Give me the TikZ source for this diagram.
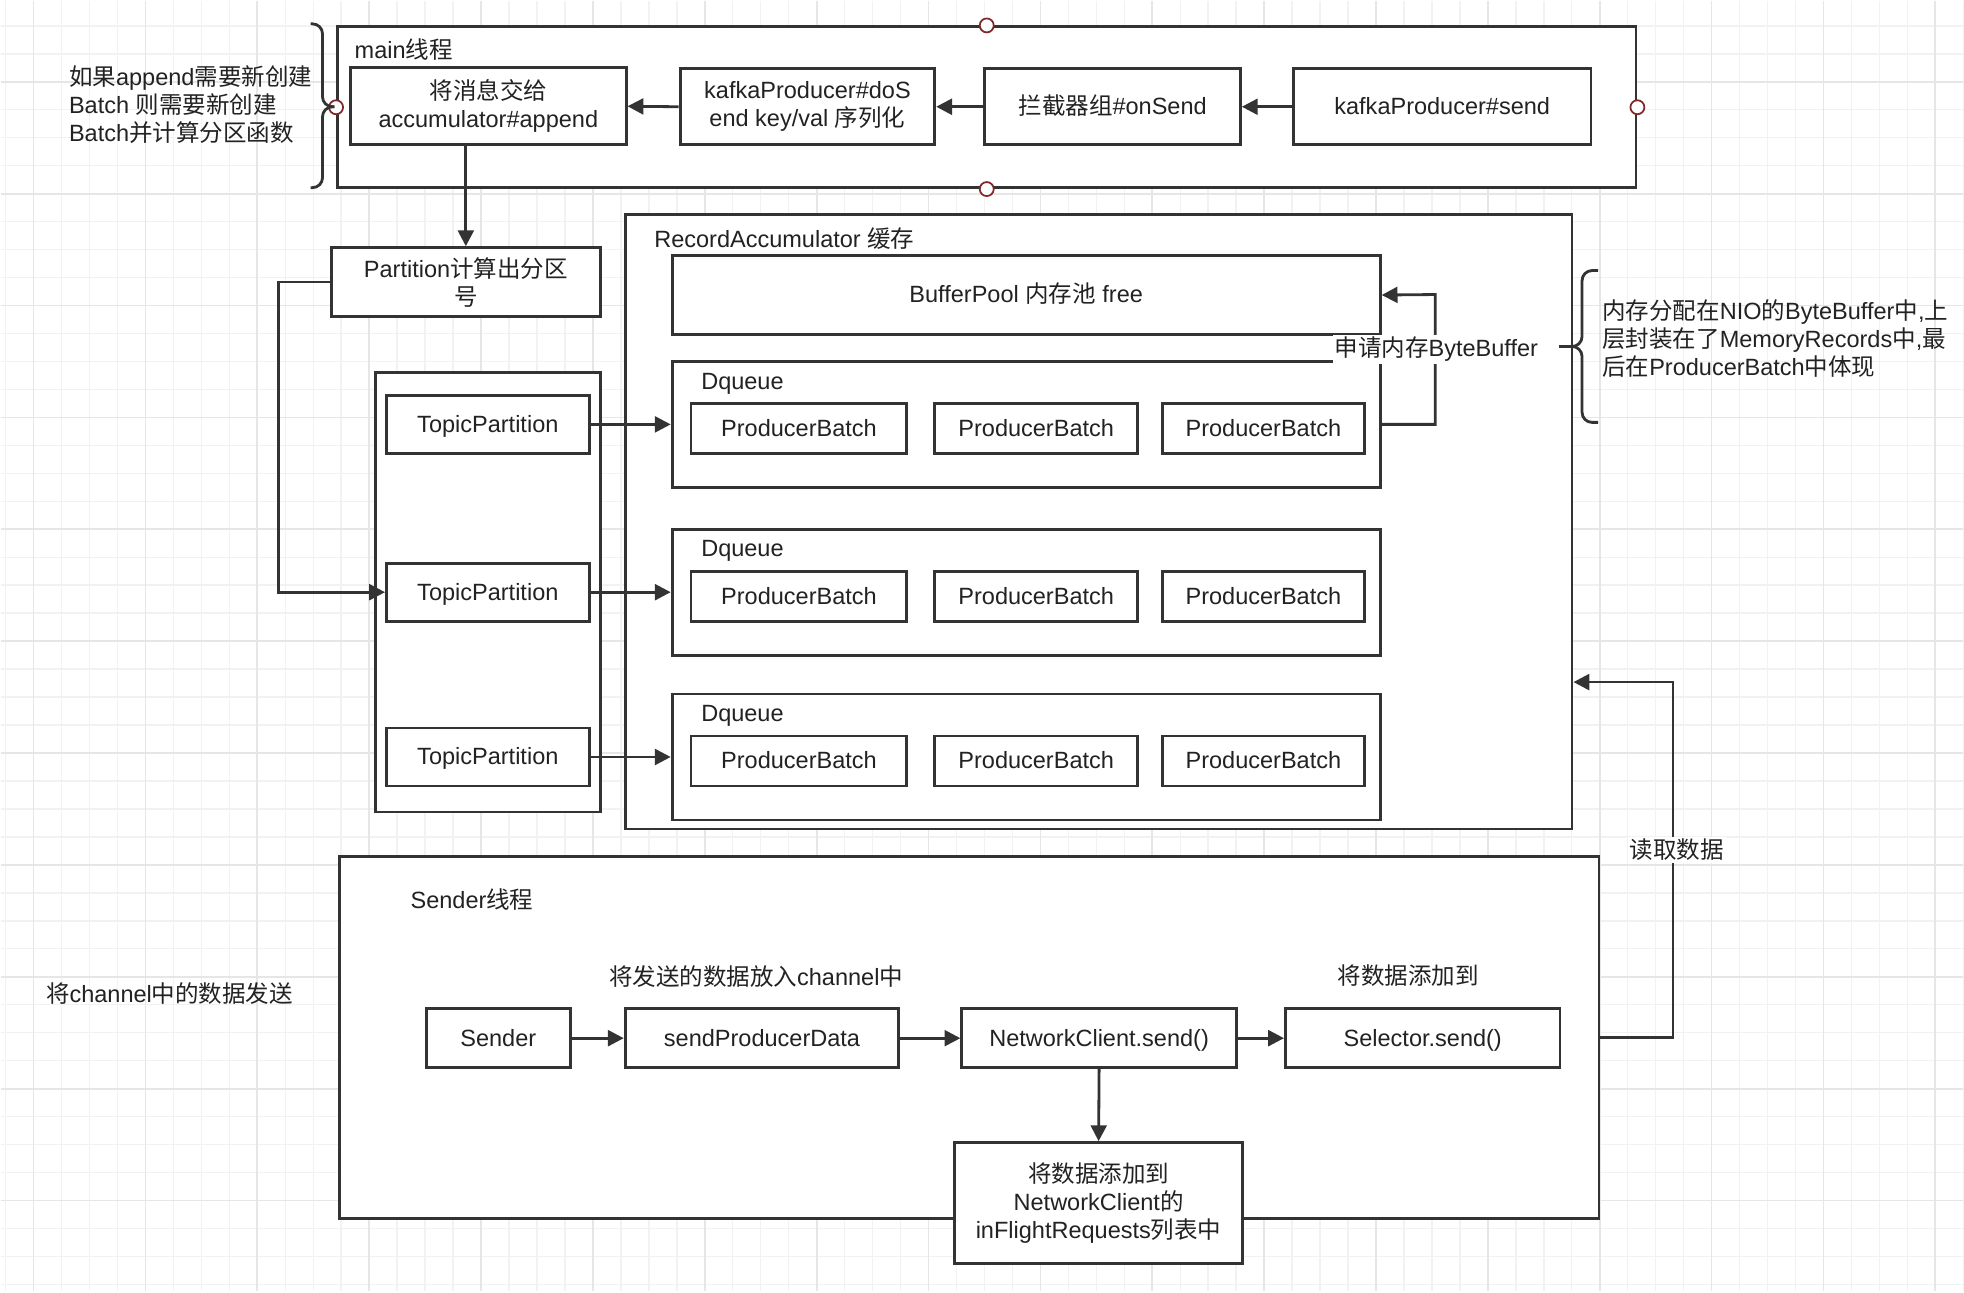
\documentclass[tikz,border=0pt]{standalone}
\usepackage{fontspec}
\setmainfont{Liberation Sans}
\newfontfamily\zhfont{Noto Sans CJK SC}
\newcommand{\zhtxt}[1]{{\zhfont #1}}
\usepackage{xcolor}
\usetikzlibrary{
	arrows.meta,
	calc
}
\definecolor{LineGray}{RGB}{51,51,51}
\definecolor{TextGray}{RGB}{34,34,34}
\definecolor{PortRed}{RGB}{128,40,40}
\definecolor{GridMinor}{RGB}{242,242,242}
\definecolor{GridMajor}{RGB}{230,230,230}

\begin{document}
\begin{tikzpicture}[x=0.02cm, y=-0.02cm,
		every node/.style={font=\fontsize{13.4}{16}\selectfont, text=TextGray},
		box/.style={draw=LineGray, line width=1.6pt, fill=white, inner sep=0pt, align=center},
		oneline/.style={text height=1.05em, text depth=0.15em},
		wh/.style 2 args={minimum width=#1*0.02cm, minimum height=#2*0.02cm},
		arr/.style={draw=LineGray, line width=1.6pt, -{Triangle[length=9pt, width=9pt]}},
		brace/.style={draw=LineGray, line width=1.6pt, rounded corners=0.2cm},
		port/.style={circle, draw=PortRed, fill=white, line width=1pt, minimum size=0.28cm, inner sep=0pt},
		gridminor/.style={draw=GridMinor, line width=0.8pt},
		gridmajor/.style={draw=GridMajor, line width=1pt}]
		\fill[white] (0,0) rectangle (1964,1292);
		\foreach \k in {0,...,70} \draw[gridminor] (4.7+28*\k,0) -- (4.7+28*\k,1292);
		\foreach \k in {0,...,45} \draw[gridminor] (0,25+28*\k) -- (1964,25+28*\k);
		\foreach \k in {0,...,17} \draw[gridmajor] (32.7+112*\k,0) -- (32.7+112*\k,1292);
		\foreach \k in {0,...,10} \draw[gridmajor] (0,81+112*\k) -- (1964,81+112*\k);
		\useasboundingbox (0,0) rectangle (1964,1292);

		\node[box, wh={1300}{161}] (mainbox) at (987,106.5) {};
		\node[anchor=west] (mainlbl) at (348,49) {main\zhtxt{线程}};
		\node[box, wh={276}{77}] (append) at (488,105.5) {\zhtxt{将消息交给}\\accumulator\#append};
		\node[box, wh={255}{76}] (dosend) at (807.5,106) {kafkaProducer\#doS\\end key/val \zhtxt{序列化}};
		\node[box, oneline, wh={256}{76}] (onsend) at (1113,106) {\zhtxt{拦截器组}\#onSend};
		\node[box, oneline, wh={298}{76}] (kpsend) at (1443,106) {kafkaProducer\#send};
		\draw[arr] (kpsend.west) -- (onsend.east);
		\draw[arr] (onsend.west) -- (dosend.east);
		\draw[arr] (dosend.west) -- (append.east);
		\node[port] (porttop) at (mainbox.north) {};
		\node[port] (portbottom) at (mainbox.south) {};
		\node[port] (portleft) at (mainbox.west) {};
		\node[port] (portright) at (mainbox.east) {};

		\node[anchor=west, align=left] (appendnote) at (62,104) {\zhtxt{如果}append\zhtxt{需要新创建}\\Batch \zhtxt{则需要新创建}\\Batch\zhtxt{并计算分区函数}};
		\draw[brace] (310,23) -- (322,23) -- (322,106) -- (334,106);
		\draw[brace] (310,187) -- (322,187) -- (322,106) -- (334,106);

		\node[box, wh={269}{69}] (partition) at (465.5,281.5) {Partition\zhtxt{计算出分区}\\\zhtxt{号}};
		\draw[arr] (partition.north |- append.south) -- (partition.north);

		\node[box, wh={948}{615}] (recacc) at (1099,521.5) {};
		\node[anchor=west] (recacclbl) at (648,238) {RecordAccumulator \zhtxt{缓存}};
		\node[box, oneline, wh={709}{79}] (bufpool) at (1026.5,294.5) {BufferPool \zhtxt{内存池} free};
		\node[box, wh={225}{440}] (tpgroup) at (487.5,592) {};
		\foreach \i/\yc in {1/424, 2/592, 3/757} {
			\node[box, wh={709}{126}] (dq\i) at (1026.5,\yc) {};
			\node[anchor=west] (dqlbl\i) at (695,\yc-41) {Dqueue};
			\node[box, oneline, wh={216}{50}] (pba\i) at (799,\yc+4) {ProducerBatch};
			\node[box, oneline, wh={203}{50}] (pbb\i) at (1036.5,\yc+4) {ProducerBatch};
			\node[box, oneline, wh={202}{50}] (pbc\i) at (1264,\yc+4) {ProducerBatch};
			\node[box, oneline, wh={203}{58}] (tp\i) at (487.5,\yc) {TopicPartition};
			\draw[arr] (tp\i.east) -- (dq\i.west);
		}
		\coordinate (ptturn) at (278,592);
		\draw[arr] (partition.west) -| (ptturn) -- (tp2.west);

		\coordinate (reqturn) at (1436,294);
		\draw[arr] (dq1.east) -| (reqturn) -- (bufpool.east);
		\node[fill=white, inner sep=1pt] (reqlbl) at (1437,349) {\zhtxt{申请内存}ByteBuffer};
		\draw[brace] (1599,270) -- (1583,270) -- (1583,346) -- (1560,346);
		\draw[brace] (1599,422) -- (1583,422) -- (1583,346) -- (1560,346);
		\node[anchor=west, align=left] (memnote) at (1597,338) {\zhtxt{内存分配在}NIO\zhtxt{的}ByteBuffer\zhtxt{中},\zhtxt{上}\\\zhtxt{层封装在了}MemoryRecords\zhtxt{中},\zhtxt{最}\\\zhtxt{后在}ProducerBatch\zhtxt{中体现}};

		\node[box, wh={1261}{362}] (senderbox) at (969.5,1038) {};
		\node[anchor=west] (senderlbl) at (404,900) {Sender\zhtxt{线程}};
		\node[anchor=west] (channelnote) at (39,994) {\zhtxt{将}channel\zhtxt{中的数据发送}};
		\node (putlbl) at (756,977) {\zhtxt{将发送的数据放入}channel\zhtxt{中}};
		\node (addlbl) at (1409,976) {\zhtxt{将数据添加到}};
		\node[box, oneline, wh={144}{59}] (sendernode) at (498,1038.5) {Sender};
		\node[box, oneline, wh={274}{59}] (spd) at (762,1038.5) {sendProducerData};
		\node[box, oneline, wh={275}{59}] (nc) at (1099.5,1038.5) {NetworkClient.send()};
		\node[box, oneline, wh={275}{59}] (selector) at (1423.5,1038.5) {Selector.send()};
		\node[box, wh={288}{121}] (inflight) at (1099,1203.5) {\zhtxt{将数据添加到}\\NetworkClient\zhtxt{的}\\inFlightRequests\zhtxt{列表中}};
		\draw[arr] (sendernode.east) -- (spd.west);
		\draw[arr] (spd.east) -- (nc.west);
		\draw[arr] (nc.east) -- (selector.west);
		\draw[arr] (nc.south) -- (inflight.north);
		\coordinate (readturn) at (1674,682);
		\draw[arr] (senderbox.east) -| (readturn) -- (recacc.east |- readturn);
		\node[fill=white, inner sep=1pt] (readlbl) at (1678,850) {\zhtxt{读取数据}};
	\end{tikzpicture}
\end{document}
